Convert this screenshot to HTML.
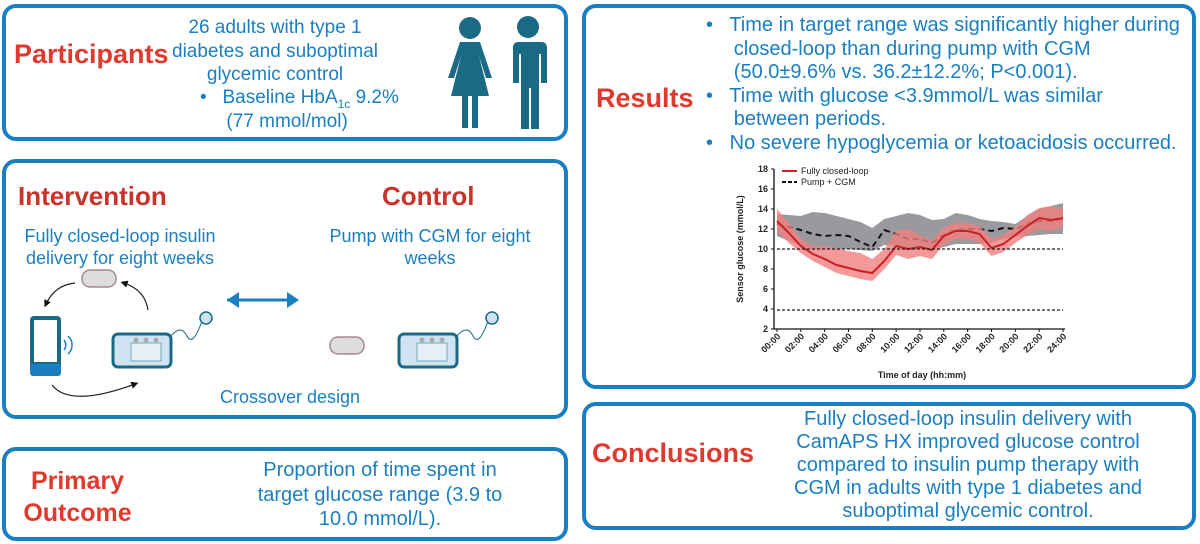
<!DOCTYPE html>
<html><head><meta charset="utf-8"><style>
body{margin:0;width:1200px;height:544px;background:#fff;position:relative;overflow:hidden;font-family:"Liberation Sans",sans-serif}
.box{position:absolute;border:4px solid #1a7fc1;border-radius:14px;box-sizing:border-box}
.t{position:absolute;color:#1a7fc1;font-size:19px;line-height:24px;white-space:nowrap}
.r{position:absolute;color:#e03a2f;font-weight:bold;font-size:27px;white-space:nowrap}
.c{text-align:center}
</style></head><body>
<div class="box" style="left:2px;top:4px;width:566px;height:137px"></div>
<div class="r" style="left:14px;top:39px">Participants</div>
<div class="t c" style="left:160px;top:16px;width:230px;line-height:23.5px">26 adults with type 1<br>diabetes and suboptimal<br>glycemic control</div>
<div class="t" style="left:200px;top:86px;line-height:23.5px">•&nbsp;&nbsp; Baseline HbA<sub style="font-size:12px;line-height:0">1c</sub> 9.2%<br>&nbsp;&nbsp;&nbsp;&nbsp;&nbsp;(77 mmol/mol)</div>
<svg style="position:absolute;left:440px;top:14px" width="120" height="115" viewBox="0 0 120 115">
<g fill="#1a6a85"><circle cx="30" cy="14" r="11"/><path d="M20 28h20l12 36h-6l-7-22 10 40H38v32h-6V82h-4v32h-6V82H11l10-40-7 22H8z"/>
<circle cx="88" cy="13" r="11"/><path d="M74 28h28a5 5 0 0 1 5 5v36h-6V40h-2v75h-8V74h-2v41h-8V40h-2v29h-6V33a5 5 0 0 1 5-5z"/></g></svg>

<div class="box" style="left:2px;top:159px;width:566px;height:260px"></div>
<div class="r" style="left:18px;top:181px;color:#c9332a;font-size:26px">Intervention</div>
<div class="r" style="left:382px;top:181px;color:#c9332a;font-size:26px">Control</div>
<div class="t c" style="left:0;top:225px;width:240px;font-size:18px;line-height:22px">Fully closed-loop insulin<br>delivery for eight weeks</div>
<div class="t c" style="left:310px;top:225px;width:240px;font-size:18px;line-height:22px">Pump with CGM for eight<br>weeks</div>
<div class="t c" style="left:190px;top:385px;width:200px;font-size:18px">Crossover design</div>
<svg style="position:absolute;left:0;top:260px" width="560" height="160">
<defs><marker id="ah" markerWidth="6" markerHeight="6" refX="3" refY="3" orient="auto"><path d="M0 0L6 3L0 6z" fill="#111"/></marker></defs>
<path d="M75 23 Q55 25 46 44" stroke="#222" fill="none" stroke-width="1.2" marker-end="url(#ah)"/>
<path d="M148 50 Q145 30 124 23" stroke="#222" fill="none" stroke-width="1.2" marker-end="url(#ah)"/>
<path d="M52 125 Q70 148 135 124" stroke="#222" fill="none" stroke-width="1.2" marker-end="url(#ah)"/>
<rect x="82" y="10" width="34" height="17" rx="8" fill="#ddd" stroke="#a88" stroke-width="1.5"/>
<rect x="30" y="56" width="31" height="60" rx="4" fill="#1a6a85"/><rect x="34" y="60" width="23" height="42" fill="#fff"/><rect x="30" y="104" width="31" height="12" rx="3" fill="#1a7fc1"/>
<path d="M64 80 a8 8 0 0 1 0 10 M68 76 a12 12 0 0 1 0 18" stroke="#1a7fc1" fill="none" stroke-width="1.5"/>
<g id="pump"><rect x="113" y="74" width="58" height="33" rx="5" fill="#cfe3f3" stroke="#1a6a85" stroke-width="3"/><rect x="131" y="83" width="30" height="18" fill="#e6f0f8" stroke="#7aa" stroke-width="1"/><circle cx="136" cy="80" r="2.5" fill="#aaa"/><circle cx="146" cy="80" r="2.5" fill="#aaa"/><circle cx="156" cy="80" r="2.5" fill="#aaa"/>
<path d="M171 76 q10-12 16 0 t16-18" stroke="#1a6a85" fill="none" stroke-width="1"/><circle cx="206" cy="58" r="6" fill="#cfe3f3" stroke="#1a6a85" stroke-width="1.5"/></g>
<use href="#pump" transform="translate(286,0)"/>
<rect x="330" y="77" width="34" height="17" rx="8" fill="#ddd" stroke="#a88" stroke-width="1.5"/>
<path d="M227 40 L297 40" stroke="#1a7fc1" stroke-width="3"/><path d="M227 40 l12-8 v16z M299 40 l-12-8 v16z" fill="#1a7fc1"/>
</svg>

<div class="box" style="left:2px;top:447px;width:566px;height:94px"></div>
<div class="r c" style="left:10px;top:465px;width:135px;font-size:25px;line-height:32px">Primary<br>Outcome</div>
<div class="t c" style="left:220px;top:458px;width:320px;font-size:20px;line-height:24.5px">Proportion of time spent in<br>target glucose range (3.9 to<br>10.0 mmol/L).</div>

<div class="box" style="left:582px;top:4px;width:614px;height:385px"></div>
<div class="r" style="left:596px;top:83px">Results</div>
<div class="t" style="left:706px;top:14px;font-size:20px;line-height:23.5px">•&nbsp;&nbsp; Time in target range was significantly higher during<br>&nbsp;&nbsp;&nbsp;&nbsp; closed-loop than during pump with CGM<br>&nbsp;&nbsp;&nbsp;&nbsp; (50.0±9.6% vs. 36.2±12.2%; P&lt;0.001).<br>•&nbsp;&nbsp; Time with glucose &lt;3.9mmol/L was similar<br>&nbsp;&nbsp;&nbsp;&nbsp; between periods.<br>•&nbsp;&nbsp; No severe hypoglycemia or ketoacidosis occurred.</div>
<svg id="chart" style="position:absolute;left:0;top:0" width="1200" height="544"></svg>

<div class="box" style="left:582px;top:402px;width:614px;height:128px"></div>
<div class="r" style="left:592px;top:438px">Conclusions</div>
<div class="t c" style="left:768px;top:408px;width:400px;font-size:20px;line-height:23px">Fully closed-loop insulin delivery with<br>CamAPS HX improved glucose control<br>compared to insulin pump therapy with<br>CGM in adults with type 1 diabetes and<br>suboptimal glycemic control.</div>
<script>
const hours=[0,1,2,3,4,5,6,7,8,9,10,11,12,13,14,15,16,17,18,19,20,21,22,23,24];
const loopMean=[12.8,11.6,10.3,9.5,9.0,8.4,8.1,7.8,7.6,8.8,10.3,10.0,10.2,9.9,11.3,11.8,11.8,11.5,10.1,10.5,11.4,12.3,13.1,12.9,13.1];
const loopLo=[11.8,10.6,9.6,8.8,8.2,7.6,7.3,7.0,6.8,8.0,9.4,9.0,9.3,9.0,10.4,11.0,11.0,10.6,9.3,9.7,10.6,11.4,12.0,11.8,12.2];
const loopHi=[14.0,12.6,11.0,10.3,10.3,10.1,9.8,9.6,9.0,10.0,11.8,12.0,11.4,10.8,12.2,12.6,12.6,12.3,11.0,11.4,12.2,13.4,14.1,14.3,14.0];
const pumpMean=[12.5,12.2,11.9,11.5,11.3,11.4,11.3,10.7,10.2,11.9,11.5,11.0,11.0,10.6,11.4,11.9,12.0,12.0,11.8,12.1,12.0,12.5,12.8,12.8,13.0];
const pumpLo=[11.3,10.8,10.3,10.0,10.0,10.0,10.0,9.9,9.8,10.4,10.3,10.1,10.0,10.0,10.2,10.5,10.5,10.5,10.6,11.0,11.2,11.3,11.4,11.5,11.5];
const pumpHi=[13.5,13.4,13.3,13.7,13.6,13.3,13.0,12.7,12.1,13.0,13.3,13.6,13.4,12.9,13.0,13.6,13.4,13.0,12.8,12.7,12.5,13.3,14.0,14.3,14.6];
const yTicks=[2,4,6,8,10,12,14,16,18];
const xTicks=["00:00","02:00","04:00","06:00","08:00","10:00","12:00","14:00","16:00","18:00","20:00","22:00","24:00"];
const refLines=[3.9,10];
const svg=document.getElementById('chart');const NS='http://www.w3.org/2000/svg';
const X=h=>777+h*(1063-777)/24, Y=v=>329-(v-2)*10;
function el(t,a,txt){const e=document.createElementNS(NS,t);for(const k in a)e.setAttribute(k,a[k]);if(txt!=null)e.textContent=txt;svg.appendChild(e);return e;}
function line(arr){return arr.map((v,i)=>(i?'L':'M')+X(hours[i]).toFixed(1)+' '+Y(v).toFixed(1)).join('');}
function band(lo,hi){return line(hi)+hours.slice().reverse().map((h,i)=>'L'+X(h).toFixed(1)+' '+Y(lo[lo.length-1-i]).toFixed(1)).join('')+'Z';}
let e;
e=el('path',{d:band(pumpLo,pumpHi),fill:'#9a9a9e'});


e=el('path',{d:line(pumpMean),fill:'none',stroke:'#111','stroke-width':2,'stroke-dasharray':'6 4'});


e=el('path',{d:band(loopLo,loopHi),fill:'#f08080','fill-opacity':0.8});


e=el('path',{d:line(loopMean),fill:'none',stroke:'#cc1f25','stroke-width':2});


refLines.forEach(v=>{e=el('line',{x1:777,x2:1063,y1:Y(v),y2:Y(v),stroke:'#222','stroke-width':1.3,'stroke-dasharray':'3 2'});

});
el('line',{x1:774,x2:774,y1:Y(18),y2:Y(2),stroke:'#111','stroke-width':1.3});
el('line',{x1:774,x2:1065,y1:Y(2),y2:Y(2),stroke:'#111','stroke-width':1.3});
yTicks.forEach(v=>{el('line',{x1:771,x2:774,y1:Y(v),y2:Y(v),stroke:'#111'});
e=el('text',{x:768,y:Y(v)+3,'font-size':9,'font-weight':'bold','text-anchor':'end',fill:'#222'},v);

});
xTicks.forEach((t,i)=>{const x=X(i*2);el('line',{x1:x,x2:x,y1:329,y2:332,stroke:'#111'});
e=el('text',{x:x+4,y:337,'font-size':9,'font-weight':'bold','text-anchor':'end',fill:'#222',transform:`rotate(-45 ${x+4} 337)`},t);

});
e=el('text',{x:922,y:378,'font-size':9,'font-weight':'bold','text-anchor':'middle',fill:'#222'},'Time of day (hh:mm)');


e=el('text',{x:743,y:249,'font-size':9,'font-weight':'bold','text-anchor':'middle',fill:'#222',transform:'rotate(-90 743 249)'},'Sensor glucose (mmol/L)');


el('line',{x1:782,x2:797,y1:171,y2:171,stroke:'#cc1f25','stroke-width':2});
e=el('text',{x:801,y:174,'font-size':9,fill:'#222'},'Fully closed-loop');


el('line',{x1:782,x2:797,y1:182,y2:182,stroke:'#111','stroke-width':2,'stroke-dasharray':'4 2'});
e=el('text',{x:801,y:185,'font-size':9,fill:'#222'},'Pump + CGM');


</script>
</body></html>
